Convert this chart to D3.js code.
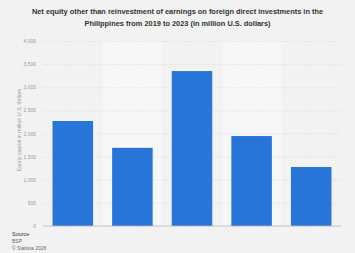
<!DOCTYPE html>
<html>
<head>
<meta charset="utf-8">
<script src="https://cdn.jsdelivr.net/npm/d3@7"></script>
<style>
  body { margin: 0; background: #f2f2f2; }
  svg { display: block; font-family: "Liberation Sans", Arial, sans-serif; }
</style>
</head>
<body>
<svg width="355" height="253"></svg>
<script>
// values
var years = ['2019', '2020', '2021', '2022', '2023'];
var equity = [2270, 1690, 3350, 1945, 1275];
var yTicks = [0, 500, 1000, 1500, 2000, 2500, 3000, 3500, 4000];

function main() {
	var svg = d3.select('svg'),
		width = +svg.attr('width'),
		height = +svg.attr('height');

	svg.append('rect').attr('width', width).attr('height', height).attr('fill', '#f2f2f2');

	var margin = {top: 41, right: 14, bottom: 27, left: 43};
	var x = d3.scaleBand().domain(years)
		.range([margin.left, width - margin.right])
		.paddingInner(0.32).paddingOuter(0.16);
	var y = d3.scaleLinear().domain([0, 4000]).range([height - margin.bottom, margin.top]);

	// title
	var title = svg.append('text')
		.attr('text-anchor', 'middle')
		.attr('fill', '#333')
		.style('font-size', '7.4px')
		.style('font-weight', 'bold');
	title.append('tspan').attr('x', width / 2).attr('y', 14)
		.text('Net equity other than reinvestment of earnings on foreign direct investments in the');
	title.append('tspan').attr('x', width / 2).attr('y', 26)
		.text('Philippines from 2019 to 2023 (in million U.S. dollars)');

	// alternating column shading
	var step = x.step();
	svg.selectAll('.band')
		.data(years.filter(function(d, i) { return i % 2 == 1; }))
		.enter().append('rect')
		.attr('class', 'band')
		.attr('x', function(d) { return x(d) - step * x.paddingInner() / 2; })
		.attr('y', y(4000))
		.attr('width', step)
		.attr('height', y(0) - y(4000))
		.attr('fill', '#f7f7f7');

	// grid + labels
	var yAxis = d3.axisLeft(y).tickValues(yTicks)
		.tickSize(-(width - margin.right - margin.left))
		.tickFormat(d3.format(','));
	var ga = svg.append('g')
		.attr('transform', 'translate(' + margin.left + ',0)')
		.call(yAxis);
	ga.select('.domain').remove();
	ga.selectAll('.tick line').attr('stroke', '#dcdcdc').attr('stroke-width', 0.6).attr('stroke-dasharray', '2,1');
	ga.selectAll('.tick text').attr('fill', '#999').attr('x', -7).style('font-size', '5px');

	svg.append('text')
		.attr('transform', 'translate(21,130) rotate(-90)')
		.attr('text-anchor', 'middle')
		.attr('fill', '#999')
		.style('font-size', '5.3px')
		.text('Equity capital in million U.S. dollars');

	// bars
	svg.selectAll('.bar')
		.data(equity)
		.enter().append('rect')
		.attr('class', 'bar')
		.attr('x', function(d, i) { return x(years[i]); })
		.attr('y', function(d) { return y(d); })
		.attr('width', x.bandwidth())
		.attr('height', function(d) { return y(0) - y(d); })
		.attr('fill', '#2775d9');

	svg.append('line')
		.attr('x1', margin.left).attr('x2', width - margin.right)
		.attr('y1', y(0)).attr('y2', y(0))
		.attr('stroke', '#bbb').attr('stroke-width', 0.8);

	// source
	var src = svg.append('g').attr('fill', '#666').style('font-size', '5px');
	src.append('text').attr('x', 12).attr('y', 236).attr('fill', '#333').style('font-size', '5.5px').text('Source');
	src.append('text').attr('x', 12).attr('y', 243).text('BSP');
	src.append('text').attr('x', 12).attr('y', 250).text('© Statista 2026');
}
main();
</script>
</body>
</html>
